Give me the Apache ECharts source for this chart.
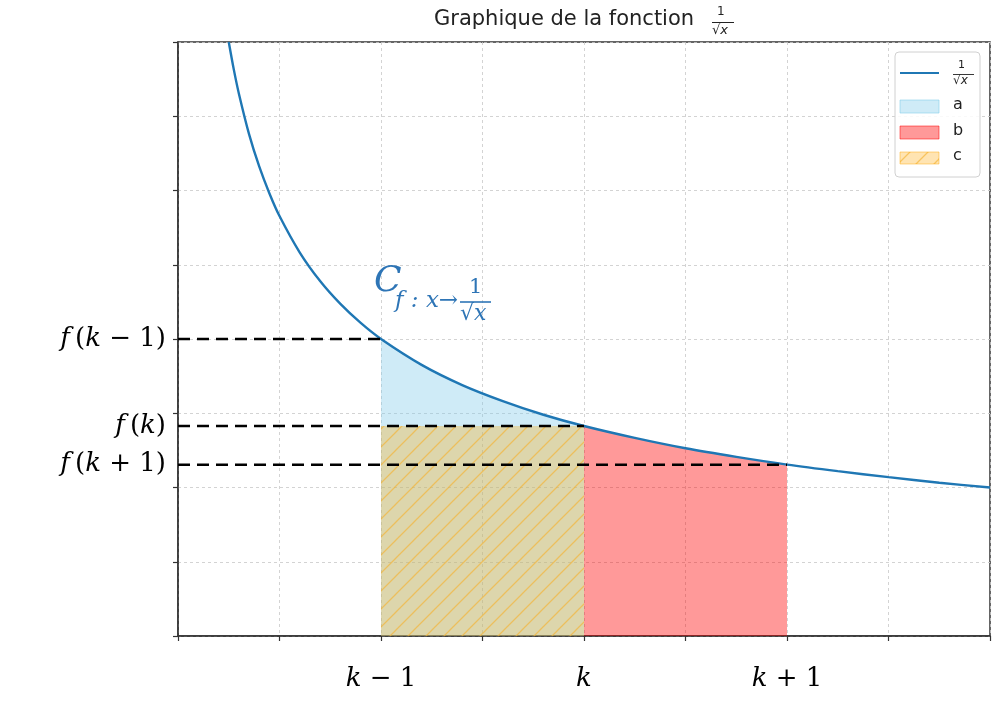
<!DOCTYPE html>
<html><head><meta charset="utf-8">
<script src="https://cdn.jsdelivr.net/npm/echarts@6/dist/echarts.min.js"></script>
<style>html,body{margin:0;padding:0;background:#fff}#c{width:1000px;height:709px}</style>
</head><body><div id="c"></div>
<script>
// curve points (x, y)
const curveX = [0.25, 0.275, 0.3, 0.35, 0.4, 0.45, 0.5, 0.6, 0.7, 0.8, 0.9, 1.0, 1.2, 1.4, 1.6, 1.8, 2.0, 2.25, 2.5, 2.75, 3.0, 3.25, 3.5, 3.75, 4.0];
const curveY = [2.0, 1.907, 1.826, 1.690, 1.581, 1.491, 1.414, 1.291, 1.195, 1.118, 1.054, 1.0, 0.913, 0.845, 0.791, 0.745, 0.707, 0.667, 0.632, 0.603, 0.577, 0.555, 0.535, 0.516, 0.5];
// regions
const regionA = [1, 2];   // area under curve (a)
const regionB = [2, 3];   // area under curve (b)
const regionC = [1, 2];   // rectangle of height f(k) (c)
const levelC = 0.707;
// dashed guide lines
const dashLevels = [1.0, 0.707, 0.577];
const dashEnds = [1, 2, 3];
// axis labels
const xLabelValues = [1, 2, 3];
const xLabelTexts = ['{i|k}{r| − 1}', '{i|k}', '{i|k}{r| + 1}'];
const yLabelValues = [1.0, 0.707, 0.577];
const yLabelTexts = ['{i|f}{r|\u2009(}{i|k}{r| − 1)}', '{i|f}{r|\u2009(}{i|k}{r|)}', '{i|f}{r|\u2009(}{i|k}{r| + 1)}'];

const pts = curveX.map((x, i) => [x, curveY[i]]);
const sub = (r) => pts.filter(p => p[0] >= r[0] - 1e-9 && p[0] <= r[1] + 1e-9);

function hatch() {
  const s = 18, c = document.createElement('canvas');
  c.width = s; c.height = s;
  const g = c.getContext('2d');
  g.fillStyle = 'rgba(255,165,0,0.3)';
  g.fillRect(0, 0, s, s);
  g.strokeStyle = 'rgba(245,180,50,0.65)';
  g.lineWidth = 1.3;
  g.beginPath();
  g.moveTo(0, s); g.lineTo(s, 0);
  g.moveTo(-3, 3); g.lineTo(3, -3);
  g.moveTo(s - 3, s + 3); g.lineTo(s + 3, s - 3);
  g.stroke();
  return c;
}
const hatchImg = hatch();

const serifRich = {
  i: { fontFamily: 'DejaVu Serif', fontStyle: 'italic', fontSize: 26, color: '#000' },
  r: { fontFamily: 'DejaVu Serif', fontSize: 26, color: '#000' }
};

const chart = echarts.init(document.getElementById('c'), null, { renderer: 'canvas' });
const series = [
  { name: 'a', type: 'line', data: sub(regionA), smooth: 0.3, symbol: 'none', z: 1,
    lineStyle: { width: 0 }, areaStyle: { color: 'rgba(135,206,235,0.4)', opacity: 1 } },
  { name: 'c', type: 'line', data: [[regionC[0], levelC], [regionC[1], levelC]], symbol: 'none', z: 2,
    lineStyle: { width: 0 }, areaStyle: { color: { image: hatchImg, repeat: 'repeat' }, opacity: 1 } },
  { name: 'b', type: 'line', data: sub(regionB), smooth: 0.3, symbol: 'none', z: 2,
    lineStyle: { width: 0 }, areaStyle: { color: 'rgba(255,0,0,0.4)', opacity: 1 } },
  { name: 'curve', type: 'line', data: pts, smooth: 0.3, symbol: 'none', z: 4,
    lineStyle: { color: '#1f77b4', width: 2.4 } }
];
dashLevels.forEach((y, i) => {
  series.push({ type: 'line', data: [[0, y], [dashEnds[i], y]], symbol: 'none', z: 5,
    lineStyle: { color: '#000', width: 2.5, type: [12, 7] } });
});

const blue = '#2e75b6';
chart.setOption({
  animation: false,
  grid: { left: 178, right: 10, top: 42, bottom: 73, show: true, borderColor: '#333', borderWidth: 1.5,
          containLabel: false, outerBoundsMode: 'none' },
  xAxis: {
    type: 'value', min: 0, max: 4, interval: 0.5,
    axisLine: { show: true, lineStyle: { color: '#333', width: 1.5 } },
    axisTick: { show: true, length: 5, lineStyle: { color: '#333', width: 1.2 } },
    splitLine: { show: true, lineStyle: { color: '#c8c8c8', type: [3, 3], width: 0.8 } },
    axisLabel: {
      show: true, customValues: xLabelValues, margin: 30,
      formatter: (v) => xLabelTexts[xLabelValues.findIndex(t => Math.abs(t - v) < 1e-6)] || '',
      rich: serifRich
    }
  },
  yAxis: {
    type: 'value', min: 0, max: 2, interval: 0.25,
    axisLine: { show: true, lineStyle: { color: '#333', width: 1.5 } },
    axisTick: { show: true, length: 5, lineStyle: { color: '#333', width: 1.2 } },
    splitLine: { show: true, lineStyle: { color: '#c8c8c8', type: [3, 3], width: 0.8 } },
    axisLabel: {
      show: true, customValues: yLabelValues, margin: 12,
      formatter: (v) => yLabelTexts[yLabelValues.findIndex(t => Math.abs(t - v) < 1e-6)] || '',
      rich: serifRich
    }
  },
  series: series,
  graphic: [
    // title
    { type: 'text', left: 434, top: 9, z: 10, style: { text: 'Graphique de la fonction', font: '21px "DejaVu Sans"', fill: '#222' } },
    { type: 'text', left: 717, top: 6, z: 10, style: { text: '1', font: '12px "DejaVu Sans"', fill: '#222' } },
    { type: 'line', z: 10, shape: { x1: 712, y1: 22.5, x2: 734, y2: 22.5 }, style: { stroke: '#222', lineWidth: 1 } },
    { type: 'text', left: 712, top: 24, z: 10, style: { text: '√x', font: 'italic 13px "DejaVu Sans"', fill: '#222' } },
    // curve annotation
    { type: 'text', left: 374, top: 264, z: 10, style: { text: 'C', font: 'italic 36px "DejaVu Serif"', fill: blue } },
    { type: 'text', left: 395, top: 290, z: 10, style: { text: 'f : x→', font: 'italic 23px "DejaVu Serif"', fill: blue } },
    { type: 'text', left: 469, top: 277, z: 10, style: { text: '1', font: '21px "DejaVu Serif"', fill: blue } },
    { type: 'line', z: 10, shape: { x1: 460, y1: 302, x2: 491, y2: 302 }, style: { stroke: blue, lineWidth: 1.6 } },
    { type: 'text', left: 460, top: 303, z: 10, style: { text: '√x', font: 'italic 22px "DejaVu Serif"', fill: blue } },
    // legend
    { type: 'rect', z: 20, shape: { x: 895, y: 52, width: 85, height: 125, r: 4 }, style: { fill: 'rgba(255,255,255,0.85)', stroke: '#d0d0d0', lineWidth: 1 } },
    { type: 'line', z: 21, shape: { x1: 900, y1: 73, x2: 939, y2: 73 }, style: { stroke: '#1f77b4', lineWidth: 2 } },
    { type: 'text', left: 958, top: 60, z: 21, style: { text: '1', font: '11px "DejaVu Sans"', fill: '#222' } },
    { type: 'line', z: 21, shape: { x1: 953, y1: 74.5, x2: 974, y2: 74.5 }, style: { stroke: '#222', lineWidth: 0.9 } },
    { type: 'text', left: 953, top: 75, z: 21, style: { text: '√x', font: 'italic 12px "DejaVu Sans"', fill: '#222' } },
    { type: 'rect', z: 21, shape: { x: 900, y: 100, width: 39, height: 13 }, style: { fill: 'rgba(135,206,235,0.4)', stroke: 'rgba(135,206,235,0.6)', lineWidth: 1 } },
    { type: 'text', left: 953, top: 97, z: 21, style: { text: 'a', font: '16px "DejaVu Sans"', fill: '#222' } },
    { type: 'rect', z: 21, shape: { x: 900, y: 126, width: 39, height: 13 }, style: { fill: 'rgba(255,0,0,0.4)', stroke: 'rgba(255,0,0,0.5)', lineWidth: 1 } },
    { type: 'text', left: 953, top: 123, z: 21, style: { text: 'b', font: '16px "DejaVu Sans"', fill: '#222' } },
    { type: 'rect', z: 21, shape: { x: 900, y: 152, width: 39, height: 12 }, style: { fill: { image: hatchImg, repeat: 'repeat' }, stroke: 'rgba(255,165,0,0.45)', lineWidth: 1 } },
    { type: 'text', left: 953, top: 148, z: 21, style: { text: 'c', font: '16px "DejaVu Sans"', fill: '#222' } }
  ]
});
</script>
</body></html>
